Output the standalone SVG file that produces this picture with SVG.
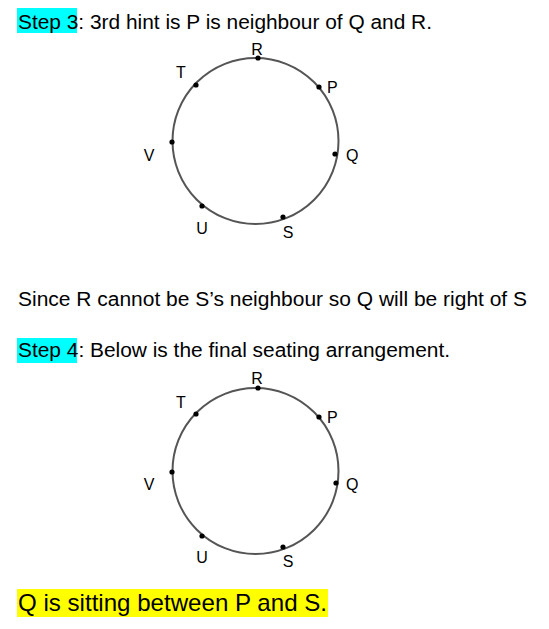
<svg xmlns="http://www.w3.org/2000/svg" width="549" height="629" viewBox="0 0 549 629">
<style>
text{font-family:"Liberation Sans",Arial,sans-serif;fill:#000}
.t{font-size:20px}
.big{font-size:24px}
.lbl{font-size:16px}
.ring{fill:none;stroke:#555;stroke-width:2}
.dot{fill:#000}
</style>
<rect width="549" height="629" fill="#fff"/>
<g id="step3">
<rect x="17" y="8" width="60" height="25" fill="#00ffff"/>
<text class="t" x="18" y="29" textLength="414" lengthAdjust="spacingAndGlyphs">Step 3: 3rd hint is P is neighbour of Q and R.</text>
</g>
<g id="circle1">
<circle class="ring" cx="255.5" cy="141" r="83"/>
<circle class="dot" cx="258" cy="58" r="2.6"/>
<circle class="dot" cx="319" cy="87" r="2.6"/>
<circle class="dot" cx="335" cy="154" r="2.6"/>
<circle class="dot" cx="283" cy="217" r="2.6"/>
<circle class="dot" cx="202" cy="206" r="2.6"/>
<circle class="dot" cx="172" cy="142" r="2.6"/>
<circle class="dot" cx="196" cy="85" r="2.6"/>
<text class="lbl" x="257" y="55" text-anchor="middle">R</text>
<text class="lbl" x="181" y="78" text-anchor="middle">T</text>
<text class="lbl" x="327" y="93">P</text>
<text class="lbl" x="346" y="161">Q</text>
<text class="lbl" x="149" y="161" text-anchor="middle">V</text>
<text class="lbl" x="202" y="234" text-anchor="middle">U</text>
<text class="lbl" x="288" y="238" text-anchor="middle">S</text>
</g>
<g id="since">
<text class="t" x="18" y="306" textLength="509" lengthAdjust="spacingAndGlyphs">Since R cannot be S’s neighbour so Q will be right of S</text>
</g>
<g id="step4">
<rect x="17" y="338" width="60" height="25" fill="#00ffff"/>
<text class="t" x="18" y="357" textLength="432" lengthAdjust="spacingAndGlyphs">Step 4: Below is the final seating arrangement.</text>
</g>
<g id="circle2">
<circle class="ring" cx="255.5" cy="471" r="83"/>
<circle class="dot" cx="258" cy="388" r="2.6"/>
<circle class="dot" cx="319" cy="417" r="2.6"/>
<circle class="dot" cx="336" cy="483" r="2.6"/>
<circle class="dot" cx="283" cy="547" r="2.6"/>
<circle class="dot" cx="202" cy="536" r="2.6"/>
<circle class="dot" cx="172" cy="472" r="2.6"/>
<circle class="dot" cx="196" cy="414" r="2.6"/>
<text class="lbl" x="257" y="384" text-anchor="middle">R</text>
<text class="lbl" x="181" y="408" text-anchor="middle">T</text>
<text class="lbl" x="327" y="423">P</text>
<text class="lbl" x="346" y="490">Q</text>
<text class="lbl" x="149" y="490" text-anchor="middle">V</text>
<text class="lbl" x="202" y="563" text-anchor="middle">U</text>
<text class="lbl" x="288" y="567" text-anchor="middle">S</text>
</g>
<g id="answer">
<rect x="17" y="589" width="311" height="28" fill="#ffff00"/>
<text class="big" x="18" y="611" textLength="309" lengthAdjust="spacingAndGlyphs">Q is sitting between P and S.</text>
</g>
</svg>
